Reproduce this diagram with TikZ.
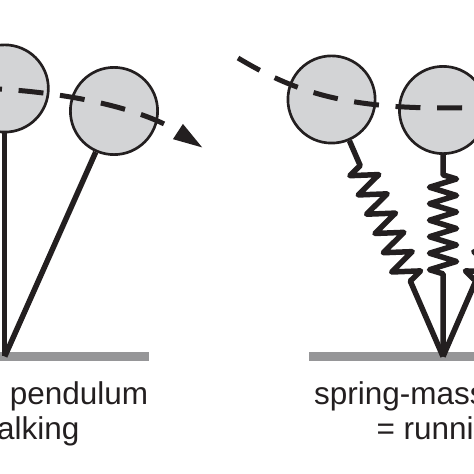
\documentclass[tikz,border=0pt]{standalone}
\usepackage{fontspec}
\setmainfont{Liberation Sans}
\usetikzlibrary{arrows.meta,decorations.pathmorphing}

\definecolor{massgray}{RGB}{211,212,214}
\definecolor{groundgray}{RGB}{150,150,152}
\definecolor{inkblack}{RGB}{35,31,32}

\tikzset{
	mass/.style	= {circle, draw=inkblack, fill=massgray, line width=1.6pt, minimum size=1.84cm, inner sep=0pt},
	rod/.style	= {draw=inkblack, line width=3.3pt},
	ground/.style	= {draw=groundgray, line width=5pt},
	track/.style	= {draw=inkblack, line width=3pt, dash pattern=on 15pt off 10pt},
	spring/.style	= {rod, line join=round, decorate,
			   decoration={zigzag, amplitude=0.285cm, segment length=#1, pre length=0.57cm, post length=1.55cm}},
	caption/.style	= {text=inkblack, inner sep=0pt, font=\fontsize{18.9pt}{20.4pt}\selectfont}
}

\begin{document}
\begin{tikzpicture}
	\useasboundingbox (0,0) rectangle (10,10);
	\clip (0,0) rectangle (10,10);

	% ground
	\draw[ground] (-0.5, 2.479) -- (3.143, 2.479);
	\draw[ground] (6.519, 2.479) -- (10.5, 2.479);

	% pendulum = walking
	\coordinate (pivL) at (0.1, 2.479);
	\node (mA) at ( 0.100, 8.133)	[mass]	{};
	\node (mB) at ( 2.405, 7.658)	[mass]	{};
	\draw[rod] (mA) -- (pivL);
	\draw[rod] (mB) -- (pivL);

	% spring-mass = running
	\coordinate (pivR) at (9.346, 2.479);
	\node (mC) at ( 6.994, 7.901)	[mass]	{};
	\node (mD) at ( 9.346, 7.679)	[mass]	{};
	\node (mE) at (11.698, 7.901)	[mass]	{};
	\draw[spring=0.443cm, decoration={mirror}] (mC) -- (pivR);
	\draw[spring=0.348cm, decoration={pre length=0.42cm, post length=1.68cm}] (mD) -- (pivR);
	\draw[spring=0.443cm] (mE) -- (pivR);

	% centre of mass paths
	\coordinate (tL0) at (-0.485, 8.143);
	\coordinate (tL1) at ( 4.283, 6.878);
	\draw[track, -{Triangle[length=18pt, width=10pt]}]
		(tL0) .. controls (1.494, 8.084) and (3.076, 7.669) .. (tL1);
	\coordinate (tR0) at ( 5.021, 8.776);
	\coordinate (tR1) at ( 9.346, 7.722);
	\coordinate (tR2) at (13.671, 8.776);
	\draw[track] (tR0) .. controls (6.181, 8.080) and (7.236, 7.722) .. (tR1)
		.. controls (11.456, 7.722) and (12.511, 8.080) .. (tR2);

	% captions
	\node (capPend) at (0.2025, 1.456)	[caption, anchor=base west]	{pendulum};
	\node (capWalk) at (1.684, 0.738)	[caption, anchor=base east]	{= walking};
	\node (capSpring) at (6.62, 1.456)	[caption, anchor=base west]	{spring-mass};
	\node (capRun) at (7.937, 0.738)	[caption, anchor=base west]	{= running};
\end{tikzpicture}
\end{document}
